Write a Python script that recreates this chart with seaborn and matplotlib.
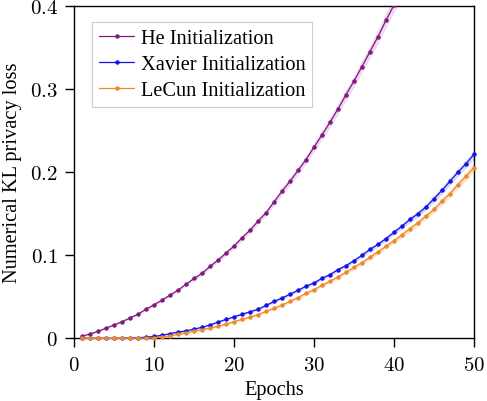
import numpy as np
import pandas as pd
import matplotlib
matplotlib.use("Agg")
import matplotlib.pyplot as plt
from matplotlib.ticker import FuncFormatter
import seaborn as sns

# ---- data ----
he_epochs = list(range(1, 42))
he_loss = [0.0026, 0.0052, 0.0084, 0.0122, 0.0160, 0.0200, 0.0245, 0.0290, 0.0350, 0.0403,
           0.0460, 0.0520, 0.0580, 0.0650, 0.0720, 0.0780, 0.0866, 0.0940, 0.1026, 0.1110,
           0.1210, 0.1300, 0.1410, 0.1510, 0.1640, 0.1770, 0.1890, 0.2020, 0.2150, 0.2300,
           0.2447, 0.2600, 0.2760, 0.2930, 0.3096, 0.3270, 0.3450, 0.3630, 0.3827, 0.4010,
           0.4210]

epochs = list(range(1, 51))
xavier_loss = [0.0, 0.0, 0.0, 0.0, 0.0, 0.0001, 0.0003, 0.0007, 0.0013, 0.0022,
               0.0036, 0.0056, 0.0074, 0.0090, 0.0110, 0.0133, 0.0160, 0.0195, 0.0228, 0.0258,
               0.0290, 0.0318, 0.0350, 0.0395, 0.0443, 0.0485, 0.0530, 0.0578, 0.0626, 0.0666,
               0.0722, 0.0766, 0.0826, 0.0874, 0.0934, 0.0999, 0.1070, 0.1130, 0.1200, 0.1275,
               0.1350, 0.1430, 0.1500, 0.1580, 0.1680, 0.1780, 0.1890, 0.2000, 0.2100, 0.2214]
lecun_loss = [0.0, 0.0, 0.0, 0.0, 0.0, 0.0, 0.0, 0.0, 0.0, 0.0006,
              0.0015, 0.0030, 0.0048, 0.0066, 0.0086, 0.0104, 0.0124, 0.0145, 0.0172, 0.0200,
              0.0229, 0.0256, 0.0284, 0.0325, 0.0360, 0.0400, 0.0445, 0.0490, 0.0540, 0.0585,
              0.0638, 0.0686, 0.0738, 0.0794, 0.0854, 0.0910, 0.0975, 0.1040, 0.1107, 0.1175,
              0.1243, 0.1320, 0.1390, 0.1470, 0.1550, 0.1650, 0.1740, 0.1850, 0.1950, 0.2055]

series_names = ["He Initialization", "Xavier Initialization", "LeCun Initialization"]
x_ticks = [0, 10, 20, 30, 40, 50]
y_ticks = [0, 0.1, 0.2, 0.3, 0.4]

# ---- styles ----
colors = {"He Initialization": "#7e1a80",
          "Xavier Initialization": "#1414e6",
          "LeCun Initialization": "#f0892a"}
band_colors = {"He Initialization": "#eed8f2",
               "Xavier Initialization": "#d8d8f8",
               "LeCun Initialization": "#fde4cc"}
band_frac = 0.02

df = pd.concat([
    pd.DataFrame({"Epoch": he_epochs, "Loss": he_loss, "Init": series_names[0]}),
    pd.DataFrame({"Epoch": epochs, "Loss": xavier_loss, "Init": series_names[1]}),
    pd.DataFrame({"Epoch": epochs, "Loss": lecun_loss, "Init": series_names[2]}),
], ignore_index=True)

sns.set_theme(style="ticks")
plt.rcParams["font.family"] = ["Liberation Serif", "DejaVu Serif"]
plt.rcParams["mathtext.fontset"] = "cm"
for k in ["text.color", "axes.labelcolor", "xtick.color", "ytick.color",
          "xtick.labelcolor", "ytick.labelcolor"]:
    plt.rcParams[k] = "black"

fig = plt.figure(figsize=(4.87, 4.02), dpi=100)
ax = fig.add_axes([74 / 487, 1 - 339.3 / 402, 400 / 487, 332.4 / 402])

for name in series_names:
    sub = df[df["Init"] == name]
    y = sub["Loss"].to_numpy()
    ax.fill_between(sub["Epoch"], y * (1 - band_frac) - 0.0008, y * (1 + band_frac) + 0.0008,
                    color=band_colors[name], linewidth=0, zorder=1)

sns.lineplot(data=df, x="Epoch", y="Loss", hue="Init", hue_order=series_names,
             palette=colors, marker="o", markersize=3.2, markeredgewidth=0,
             linewidth=0.9, ax=ax, zorder=3)

for line in ax.lines:
    if len(line.get_xdata()) == 50:
        line.set_clip_on(False)

ax.set_xlim(0, 50)
ax.set_ylim(0, 0.4)
ax.set_xticks(x_ticks)
ax.set_yticks(y_ticks)
ax.xaxis.set_major_formatter(FuncFormatter(lambda v, p: f"${v:g}$"))
ax.yaxis.set_major_formatter(FuncFormatter(lambda v, p: f"${v:g}$"))
ax.tick_params(axis="both", direction="out", length=6.5, width=1.0, color="black",
               labelcolor="black", labelsize=15, top=False, right=False)
ax.tick_params(axis="x", pad=6)
ax.tick_params(axis="y", pad=5)
for sp in ax.spines.values():
    sp.set_visible(True)
    sp.set_color("black")
    sp.set_linewidth(1.0)

ax.set_xlabel("Epochs", fontsize=14.7, labelpad=4, color="black")
ax.set_ylabel("Numerical KL privacy loss", fontsize=14.7, labelpad=6, color="black")

handles, labels = ax.get_legend_handles_labels()
leg = ax.legend(handles, labels, loc="upper left", bbox_to_anchor=(0.045, 0.952),
                borderaxespad=0, fontsize=14.7, frameon=True, fancybox=False,
                framealpha=1, edgecolor="#cccccc", handlelength=1.75,
                handletextpad=0.3, labelspacing=0.33, borderpad=0.33, numpoints=1)
leg.get_frame().set_linewidth(0.8)
for t in leg.get_texts():
    t.set_color("black")

fig.savefig("out.png", dpi=100)
